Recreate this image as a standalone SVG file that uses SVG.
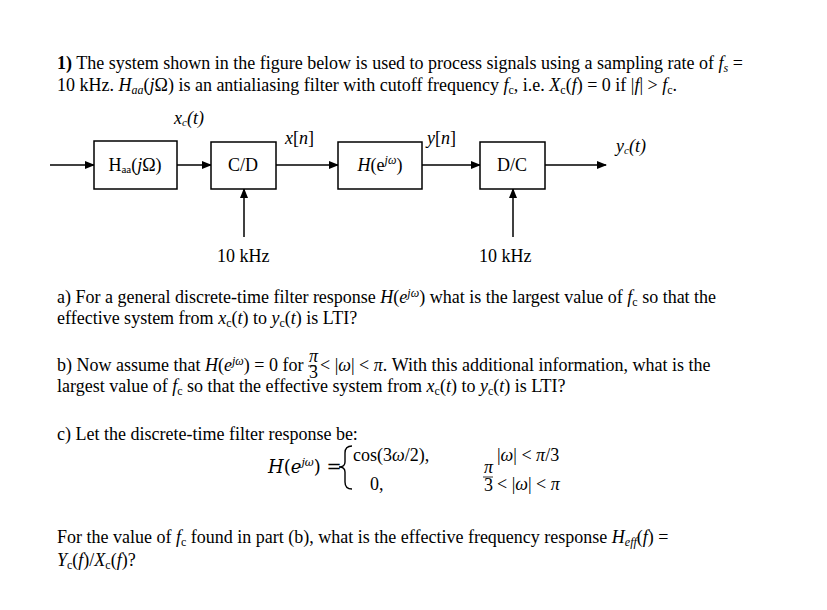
<svg xmlns="http://www.w3.org/2000/svg" width="827" height="610" viewBox="0 0 827 610">
<style>
text{font-family:"Liberation Serif","DejaVu Serif",serif;font-size:18px;fill:#000}
.m{font-family:"DejaVu Serif",serif;font-style:italic}
.box{fill:#fff;stroke:#000;stroke-width:1.5}
.c{stroke:#000;stroke-width:1.5;fill:none;marker-end:url(#a)}
</style>
<defs><marker id="a" markerWidth="10" markerHeight="8" refX="9" refY="4" orient="auto" markerUnits="userSpaceOnUse"><path d="M0,0L10,4L0,8z"/></marker></defs>
<rect width="827" height="610" fill="#fff"/>
<text x="57" y="69"><tspan font-weight="bold">1)</tspan> The system shown in the figure below is used to process signals using a sampling rate of <tspan font-style="italic">f<tspan font-size="12" dy="3">s</tspan></tspan><tspan dy="-3"> =</tspan></text>
<text x="57" y="91">10 kHz. <tspan font-style="italic">H<tspan font-size="12" dy="3">aa</tspan></tspan><tspan dy="-3">(<tspan font-style="italic">j</tspan>Ω) is an antialiasing filter with cutoff frequency <tspan font-style="italic">f</tspan><tspan font-size="12" dy="3">c</tspan></tspan><tspan dy="-3">, i.e. <tspan font-style="italic">X</tspan></tspan><tspan font-size="12" dy="3">c</tspan><tspan dy="-3">(<tspan font-style="italic">f</tspan>) = 0 if |<tspan font-style="italic">f</tspan>| &gt; <tspan font-style="italic">f</tspan></tspan><tspan font-size="12" dy="3">c</tspan><tspan dy="-3">.</tspan></text>
<g id="connectors">
<line class="c" x1="50" y1="165" x2="94" y2="165"/>
<line class="c" x1="177" y1="165" x2="211" y2="165"/>
<line class="c" x1="276" y1="165" x2="338" y2="165"/>
<line class="c" x1="422" y1="165" x2="480" y2="165"/>
<line class="c" x1="545" y1="165" x2="606" y2="165"/>
<line class="c" x1="244" y1="237" x2="244" y2="189"/>
<line class="c" x1="513" y1="237" x2="513" y2="189"/>
</g>
<g id="haa"><rect class="box" x="94" y="141" width="83" height="48"/><text x="135" y="171" text-anchor="middle" font-size="17">H<tspan font-size="11" dy="2">aa</tspan><tspan dy="-2">(<tspan font-style="italic">j</tspan>Ω)</tspan></text></g>
<g id="cd"><rect class="box" x="211" y="142" width="65" height="47"/><text x="243" y="171" text-anchor="middle" font-size="17">C/D</text></g>
<g id="h"><rect class="box" x="338" y="142" width="84" height="47"/><text x="380" y="171" text-anchor="middle" font-size="17"><tspan font-style="italic">H</tspan>(e<tspan font-style="italic" font-size="12" dy="-7">jω</tspan><tspan dy="7">)</tspan></text></g>
<g id="dc"><rect class="box" x="480" y="142" width="65" height="47"/><text x="512" y="171" text-anchor="middle" font-size="17">D/C</text></g>
<g id="labels">
<text x="174" y="124" font-style="italic" font-size="17">x<tspan font-size="11" dy="2">c</tspan><tspan dy="-2">(t)</tspan></text>
<text x="285" y="144" font-style="italic" font-size="17">x<tspan font-style="normal">[</tspan>n<tspan font-style="normal">]</tspan></text>
<text x="427" y="144" font-style="italic" font-size="17">y<tspan font-style="normal">[</tspan>n<tspan font-style="normal">]</tspan></text>
<text x="616" y="152" font-style="italic" font-size="17">y<tspan font-size="11" dy="2">c</tspan><tspan dy="-2">(t)</tspan></text>
<text x="217" y="262" font-size="17">10 kHz</text>
<text x="479" y="262" font-size="17">10 kHz</text>
</g>
<text x="57" y="303">a) For a general discrete-time filter response <tspan font-style="italic">H</tspan>(<tspan font-style="italic">e<tspan font-size="12" dy="-6">jω</tspan></tspan><tspan dy="6">) what is the largest value of <tspan font-style="italic">f</tspan></tspan><tspan font-size="12" dy="3">c</tspan><tspan dy="-3"> so that the</tspan></text>
<text x="57" y="324">effective system from <tspan font-style="italic">x</tspan><tspan font-size="12" dy="3">c</tspan><tspan dy="-3">(<tspan font-style="italic">t</tspan>) to <tspan font-style="italic">y</tspan></tspan><tspan font-size="12" dy="3">c</tspan><tspan dy="-3">(<tspan font-style="italic">t</tspan>) is LTI?</tspan></text>
<text x="57" y="371">b) Now assume that <tspan font-style="italic">H</tspan>(<tspan font-style="italic">e<tspan font-size="12" dy="-6">jω</tspan></tspan><tspan dy="6">) = 0 for</tspan></text>
<text x="309" y="362" font-size="10" font-style="italic">π</text>
<line x1="308" y1="366" x2="316" y2="366" stroke="#000" stroke-width="0.8"/>
<text x="309" y="378" font-size="10">3</text>
<text x="320" y="371">&lt; |<tspan font-style="italic">ω</tspan>| &lt; <tspan font-style="italic">π</tspan>. With this additional information, what is the</text>
<text x="57" y="392">largest value of <tspan font-style="italic">f</tspan><tspan font-size="12" dy="3">c</tspan><tspan dy="-3"> so that the effective system from <tspan font-style="italic">x</tspan></tspan><tspan font-size="12" dy="3">c</tspan><tspan dy="-3">(<tspan font-style="italic">t</tspan>) to <tspan font-style="italic">y</tspan></tspan><tspan font-size="12" dy="3">c</tspan><tspan dy="-3">(<tspan font-style="italic">t</tspan>) is LTI?</tspan></text>
<text x="57" y="440">c) Let the discrete-time filter response be:</text>
<text x="268" y="473" class="m" font-size="17">H<tspan font-style="normal">(</tspan>e<tspan font-size="11" dy="-7">jω</tspan><tspan dy="7" font-style="normal">) =</tspan></text>
<path d="M352,446 Q345,446 345,453 L345,462 Q345,467 339,467 Q345,467 345,472 L345,482 Q345,489 352,489" fill="none" stroke="#000" stroke-width="1.4"/>
<text x="353" y="461" font-family="DejaVu Sans,sans-serif" font-size="17">cos(3<tspan font-style="italic">ω</tspan>/2),</text>
<text x="497" y="461" font-family="DejaVu Sans,sans-serif" font-size="17">|<tspan font-style="italic">ω</tspan>| &lt; <tspan font-style="italic">π</tspan>/3</text>
<text x="370" y="490" font-family="DejaVu Sans,sans-serif" font-size="17">0,</text>
<text x="484" y="473" font-family="DejaVu Sans,sans-serif" font-size="11" font-style="italic">π</text>
<line x1="483" y1="477" x2="493" y2="477" stroke="#000" stroke-width="0.8"/>
<text x="484" y="491" font-family="DejaVu Sans,sans-serif" font-size="11">3</text>
<text x="497" y="490" font-family="DejaVu Sans,sans-serif" font-size="17">&lt; |<tspan font-style="italic">ω</tspan>| &lt; <tspan font-style="italic">π</tspan></text>
<text x="57" y="543">For the value of <tspan font-style="italic">f</tspan><tspan font-size="12" dy="3">c</tspan><tspan dy="-3"> found in part (b), what is the effective frequency response <tspan font-style="italic">H</tspan></tspan><tspan font-size="12" dy="3" font-style="italic">eff</tspan><tspan dy="-3">(<tspan font-style="italic">f</tspan>) =</tspan></text>
<text x="57" y="566"><tspan font-style="italic">Y</tspan><tspan font-size="12" dy="3">c</tspan><tspan dy="-3">(<tspan font-style="italic">f</tspan>)/<tspan font-style="italic">X</tspan></tspan><tspan font-size="12" dy="3">c</tspan><tspan dy="-3">(<tspan font-style="italic">f</tspan>)?</tspan></text>
</svg>
